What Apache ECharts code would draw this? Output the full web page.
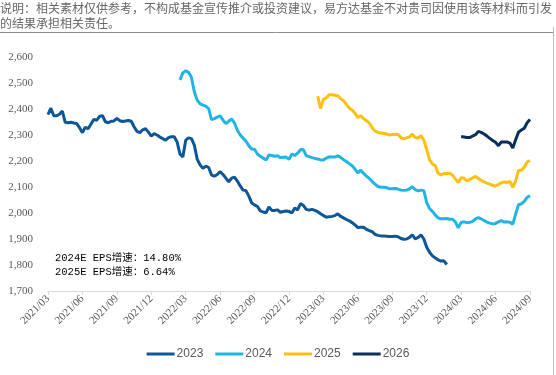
<!DOCTYPE html>
<html>
<head>
<meta charset="utf-8">
<script src="https://cdn.jsdelivr.net/npm/echarts@6/dist/echarts.min.js"></script>
<style>
  html, body { margin: 0; padding: 0; background: #fff; }
  #chart { width: 556px; height: 375px; }
</style>
</head>
<body>
<div id="chart"></div>
<script>
// x 轴以月份计：0 = 2021/03，步长 0.25 月（约一周）
const STEP = 0.25;
const xTicks = { min: 0, max: 42, interval: 3 };
const yTicks = { min: 1700, max: 2600, interval: 100 };

const seriesNames = ['2023', '2024', '2025', '2026'];
const seriesColors = ['#0d5697', '#22b5e3', '#fdc010', '#0c2f5a'];
const seriesStart = [0, 11.5, 23.5, 36];

const eps2023 = [
    2378, 2403, 2374, 2374, 2380, 2392, 2349, 2347, 2349, 2346,
    2344, 2328, 2309, 2330, 2324, 2342, 2360, 2357, 2372, 2374,
    2351, 2347, 2353, 2354, 2364, 2355, 2352, 2354, 2356, 2353,
    2332, 2314, 2309, 2320, 2324, 2311, 2296, 2305, 2300, 2292,
    2286, 2280, 2290, 2293, 2293, 2273, 2227, 2215, 2280, 2289,
    2286, 2261, 2207, 2185, 2172, 2180, 2175, 2146, 2142, 2148,
    2159, 2148, 2134, 2120, 2134, 2138, 2123, 2104, 2088, 2086,
    2065, 2039, 2031, 2025, 2008, 2004, 2001, 2023, 2010, 2010,
    2012, 2003, 2006, 2008, 2006, 2000, 2019, 2012, 2036, 2029,
    2014, 2011, 2014, 2010, 2005, 1997, 1990, 1984, 1986, 1987,
    1990, 1997, 1987, 1981, 1975, 1970, 1963, 1954, 1944, 1945,
    1945, 1937, 1932, 1928, 1918, 1914, 1912, 1912, 1911, 1910,
    1910, 1911, 1909, 1902, 1899, 1900, 1906, 1916, 1900, 1906,
    1916, 1900, 1868, 1849, 1835, 1827, 1820, 1815, 1816, 1802
];
const eps2024 = [
    2512, 2539, 2547, 2541, 2522, 2466, 2434, 2420, 2415, 2411,
    2401, 2359, 2363, 2369, 2374, 2357, 2344, 2353, 2362, 2346,
    2318, 2300, 2288, 2276, 2259, 2246, 2245, 2227, 2218, 2211,
    2204, 2223, 2221, 2218, 2220, 2213, 2214, 2215, 2207, 2227,
    2221, 2230, 2243, 2244, 2221, 2217, 2213, 2210, 2208, 2204,
    2204, 2211, 2216, 2215, 2215, 2220, 2214, 2205, 2198, 2190,
    2182, 2169, 2154, 2165, 2152, 2142, 2133, 2121, 2111, 2102,
    2099, 2099, 2098, 2093, 2093, 2094, 2092, 2088, 2087, 2088,
    2093, 2101, 2090, 2085, 2088, 2086, 2040, 2017, 2006, 1992,
    1981, 1978, 1978, 1979, 1976, 1976, 1966, 1943, 1964, 1966,
    1963, 1964, 1968, 1977, 1982, 1977, 1971, 1965, 1961, 1958,
    1960, 1966, 1971, 1965, 1966, 1964, 1957, 1996, 2032, 2035,
    2045, 2060, 2067
];
const eps2025 = [
    2449, 2402, 2437, 2443, 2455, 2455, 2453, 2451, 2440, 2432,
    2418, 2403, 2396, 2384, 2367, 2374, 2363, 2355, 2346, 2328,
    2315, 2310, 2308, 2306, 2304, 2300, 2302, 2303, 2302, 2290,
    2285, 2289, 2293, 2303, 2290, 2288, 2298, 2280, 2244, 2204,
    2189, 2182, 2152, 2147, 2152, 2151, 2153, 2146, 2131, 2117,
    2136, 2134, 2123, 2129, 2135, 2141, 2133, 2125, 2120, 2115,
    2111, 2106, 2104, 2110, 2116, 2119, 2117, 2122, 2099, 2123,
    2164, 2164, 2176, 2196, 2202
];
const eps2026 = [
    2294, 2292, 2290, 2290, 2296, 2301, 2314, 2310, 2304, 2296,
    2287, 2279, 2272, 2259, 2273, 2273, 2273, 2269, 2250, 2282,
    2311, 2319, 2326, 2347, 2360
];
const seriesValues = [eps2023, eps2024, eps2025, eps2026];

const noteLines = ['2024E EPS增速：14.80%', '2025E EPS增速：6.64%'];
const disclaimer = [
    '说明：相关素材仅供参考，不构成基金宣传推介或投资建议，易方达基金不对贵司因使用该等材料而引发',
    '的结果承担相关责任。'
];

function monthLabel(v) {
    const t = Math.round(v) + 2;
    return (2021 + Math.floor(t / 12)) + '/' + String(t % 12 + 1).padStart(2, '0');
}

const chart = echarts.init(document.getElementById('chart'));

chart.setOption({
    animation: false,
    backgroundColor: '#fff',
    grid: { left: 48, right: 26, top: 57, bottom: 84 },
    legend: {
        left: 'center',
        top: 343,
        icon: 'rect',
        itemWidth: 28,
        itemHeight: 3,
        itemGap: 12,
        textStyle: { color: '#595959', fontSize: 12, fontFamily: 'Liberation Sans', padding: [0, 0, 0, -3] },
        data: seriesNames
    },
    xAxis: {
        type: 'value',
        min: xTicks.min,
        max: xTicks.max,
        interval: xTicks.interval,
        splitLine: { show: false },
        axisLine: { lineStyle: { color: '#d9d9d9' } },
        axisTick: { show: true, length: 4, lineStyle: { color: '#d9d9d9' } },
        axisLabel: {
            rotate: 45,
            margin: 6,
            color: '#595959',
            fontSize: 11,
            fontFamily: 'Liberation Serif',
            formatter: monthLabel
        }
    },
    yAxis: {
        type: 'value',
        min: yTicks.min,
        max: yTicks.max,
        interval: yTicks.interval,
        splitLine: { show: false },
        axisLine: { show: false },
        axisTick: { show: false },
        axisLabel: {
            margin: 15,
            color: '#595959',
            fontSize: 11,
            fontFamily: 'Liberation Serif',
            formatter: v => v.toLocaleString('en-US')
        }
    },
    series: seriesNames.map((name, i) => ({
        name,
        type: 'line',
        showSymbol: false,
        symbol: 'none',
        color: seriesColors[i],
        lineStyle: { width: 3, color: seriesColors[i] },
        data: seriesValues[i].map((v, k) => [seriesStart[i] + k * STEP, v])
    })),
    graphic: [
        {
            type: 'text', left: 0, top: 1,
            style: { text: disclaimer.join('\n'), fill: '#666', font: '12px "Noto Sans CJK SC"', lineHeight: 15 }
        },
        {
            type: 'line',
            shape: { x1: 0, y1: 32.5, x2: 553, y2: 32.5 },
            style: { stroke: '#8c8c8c', lineWidth: 1 }
        },
        {
            type: 'line',
            shape: { x1: 553.5, y1: 27, x2: 553.5, y2: 375 },
            style: { stroke: '#bfbfbf', lineWidth: 1 }
        },
        {
            type: 'text', left: 55, top: 251,
            style: { text: noteLines.join('\n'), fill: '#000', font: '10.5px "Liberation Mono", "Noto Sans CJK SC"', lineHeight: 14 }
        }
    ]
});
</script>
</body>
</html>
